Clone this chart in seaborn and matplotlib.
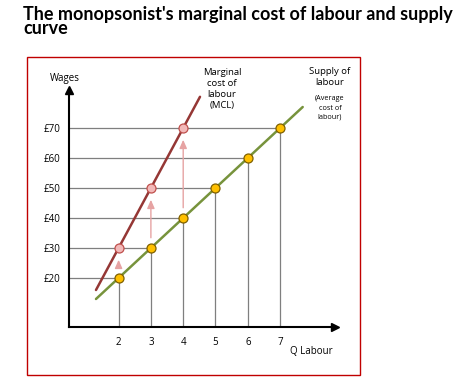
import numpy as np
import pandas as pd
import matplotlib
matplotlib.use('Agg')
import matplotlib.pyplot as plt
import seaborn as sns
from matplotlib.patches import Rectangle

# data
quantity = [2, 3, 4, 5, 6, 7]
supply_wage = [20, 30, 40, 50, 60, 70]
mcl_quantity = [2, 3, 4]
mcl_wage = [30, 50, 70]
supply_line_q = [1.3, 7.7]
supply_line_wage = [13, 77]
mcl_line_q = [1.3, 4.52]
mcl_line_wage = [16, 80.4]
wage_ticks = [20, 30, 40, 50, 60, 70]
wage_labels = ['£20', '£30', '£40', '£50', '£60', '£70']

sns.set_style('white')
plt.rcParams['font.family'] = ['Open Sans', 'DejaVu Sans']
plt.rcParams['text.color'] = 'black'

W, H = 476, 387
fig = plt.figure(figsize=(W / 100, H / 100), dpi=100)

x0, x1 = 0.46, 8.7
y0, y1 = 3.7, 82.7
left_px = 54 + 32.3 * x0
right_px = 54 + 32.3 * x1
bot_px = 338 - 3.0 * y0
top_px = 338 - 3.0 * y1
ax = fig.add_axes([left_px / W, 1 - bot_px / H, (right_px - left_px) / W, (bot_px - top_px) / H])
ax.set_xlim(x0, x1)
ax.set_ylim(y0, y1)

grid_col = '#7f7f7f'
for q, w in zip(quantity, supply_wage):
    ax.plot([x0, q], [w, w], color=grid_col, lw=0.9, zorder=1)
    ax.plot([q, q], [y0, w], color=grid_col, lw=0.9, zorder=1)

sns.lineplot(x=supply_line_q, y=supply_line_wage, color='#77933C', lw=1.8, ax=ax, zorder=2)
sns.lineplot(x=mcl_line_q, y=mcl_line_wage, color='#953735', lw=1.8, ax=ax, zorder=2)

# pink arrows from supply point up to MCL point
for q, wm in zip(mcl_quantity, mcl_wage):
    ws = supply_wage[quantity.index(q)]
    ax.annotate('', xy=(q, wm - 3), xytext=(q, ws + 2.5),
                arrowprops=dict(arrowstyle='-|>,head_width=0.22,head_length=0.5',
                                color='#E6A3A3', lw=1.0), zorder=2)

sns.scatterplot(x=quantity, y=supply_wage, s=42, color='#FFC000',
                edgecolor='#7F6000', linewidth=0.9, ax=ax, zorder=4)
sns.scatterplot(x=mcl_quantity, y=mcl_wage, s=42, color='#F2B9B9',
                edgecolor='#C0504D', linewidth=0.9, ax=ax, zorder=4)

for s in ['top', 'right']:
    ax.spines[s].set_visible(False)
for s in ['left', 'bottom']:
    ax.spines[s].set_color('black')
    ax.spines[s].set_linewidth(1.5)
ax.plot([x1], [y0], marker='>', color='black', ms=6, clip_on=False, zorder=5)
ax.plot([x0], [y1], marker='^', color='black', ms=6, clip_on=False, zorder=5)

ax.set_yticks(wage_ticks)
ax.set_yticklabels(wage_labels)
ax.set_xticks(quantity)
ax.tick_params(axis='both', length=0, labelsize=7, colors='black')
ax.tick_params(axis='y', pad=6)
ax.tick_params(axis='x', pad=7)

fig.text(65 / W, 1 - 78 / H, 'Wages', fontsize=7, ha='center', va='center')
fig.text(311 / W, 1 - 352 / H, 'Q Labour', fontsize=7, ha='center', va='center')
fig.text(222 / W, 1 - 89 / H, 'Marginal\ncost of\nlabour\n(MCL)', fontsize=6.8,
         ha='center', va='center', linespacing=1.25)
fig.text(330 / W, 1 - 77 / H, 'Supply of\nlabour', fontsize=6.8,
         ha='center', va='center', linespacing=1.25)
fig.text(330 / W, 1 - 108 / H, '(Average\ncost of\nlabour)', fontsize=5.2,
         ha='center', va='center', linespacing=1.4)

fig.text(23 / W, 1 - 6 / H, "The monopsonist's marginal cost of labour and supply\ncurve",
         fontsize=13.0, fontweight='bold', ha='left', va='top', linespacing=0.8,
         color='black', family=['Lato', 'DejaVu Sans'])

fig.patches.append(Rectangle((27 / W, 1 - 375 / H), (360 - 27) / W, (375 - 57) / H,
                             transform=fig.transFigure, fill=False,
                             edgecolor='#C00000', lw=1))

fig.savefig('out.png', dpi=100)
